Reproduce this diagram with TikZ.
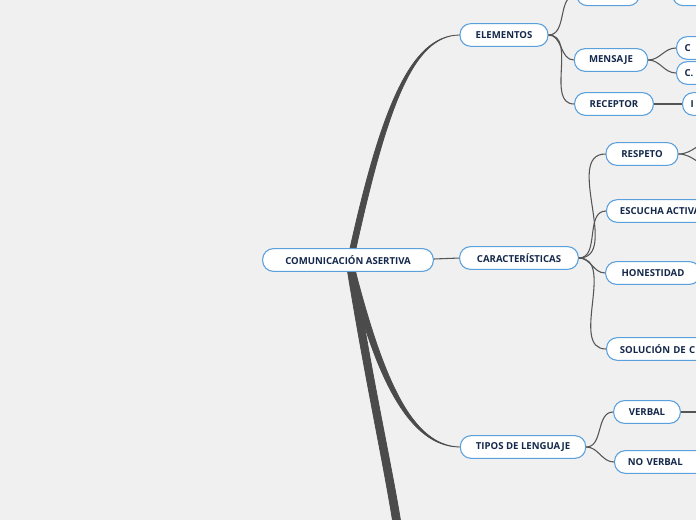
\documentclass[tikz,border=0pt]{standalone}
\usepackage{fontspec}
\setmainfont{Open Sans}
\begin{document}
\begin{tikzpicture}[x=0.75pt,y=-0.75pt,
  box/.style={draw=boxblue,fill=white,line width=0.8pt,rounded corners=8pt,inner sep=0pt,minimum height=17pt,font=\fontsize{7.2}{8}\selectfont\bfseries,text=navy},
  link/.style={draw=linegray,line width=0.8pt},
  trunk/.style={fill=trunkgray,draw=trunkgray,line width=0.6pt}]
\definecolor{boxblue}{RGB}{90,160,220}
\definecolor{navy}{RGB}{20,40,75}
\definecolor{linegray}{RGB}{85,85,85}
\definecolor{trunkgray}{RGB}{75,75,75}
\useasboundingbox (0,0) rectangle (696,520);
\clip (0,0) rectangle (696,520);
\fill[black!6] (0,0) rectangle (696,520);
% tapered trunks
\path[trunk] (347,262) .. controls (380,110) and (410,35) .. (460,35)
  .. controls (412,35) and (386,110) .. (353,262) -- cycle;
\path[trunk] (347,262) .. controls (375,380) and (410,447) .. (460,447)
  .. controls (412,446) and (383,380) .. (353,262) -- cycle;
\path[trunk] (346,262) .. controls (365,380) and (385,470) .. (394,530)
  -- (402,530) .. controls (393,470) and (372,380) .. (354,262) -- cycle;
\draw[link] (434,259) -- (460,258);
% nodes
\node[box,minimum width=128pt] (c) at (348,260) {COMUNICACIÓN ASERTIVA};
\node[box,minimum width=66pt] (el) at (504,35) {ELEMENTOS};
\node[box,minimum width=89pt] (ca) at (519,258) {CARACTERÍSTICAS};
\node[box,minimum width=94pt] (tl) at (523,447) {TIPOS DE LENGUAJE};
\node[box,minimum width=47pt,minimum height=16pt] (t0) at (608,-5) {};
\node[box,minimum width=40pt,minimum height=16pt,anchor=west] (t1) at (672,-5) {};
\node[box,minimum width=55pt] (me) at (611,60) {MENSAJE};
\node[box,minimum width=40pt,anchor=west,text width=34pt,align=left,inner xsep=6pt] (m1) at (676,48) {C};
\node[box,minimum width=40pt,anchor=west,text width=34pt,align=left,inner xsep=6pt] (m2) at (676,73) {C.};
\node[box,minimum width=59pt] (re) at (614,104) {RECEPTOR};
\node[box,minimum width=40pt,anchor=west,text width=34pt,align=left,inner xsep=6pt] (r1) at (682,104) {I};
\node[box,minimum width=54pt] (rs) at (642,154) {RESPETO};
\node[box,anchor=west,inner xsep=10pt] (ea) at (606,211) {ESCUCHA ACTIVA};
\node[box,minimum width=71pt] (ho) at (653,273) {HONESTIDAD};
\node[box,anchor=west,inner xsep=10pt,text width=90pt,align=left] (so) at (606,349) {SOLUCIÓN DE C};
\node[box,minimum width=50pt] (ve) at (647,412) {VERBAL};
\node[box,anchor=west,inner xsep=10pt,text width=60pt,align=left] (nv) at (614,462) {NO VERBAL};
% links
\coordinate (p1) at (715,140);
\coordinate (p2) at (715,168);
\coordinate (p3) at (705,412);
\draw[link] (el.east) to[out=0,in=180] (t0.west);
\draw[link] (t0.east) -- (t1.west);
\draw[link] (el.east) to[out=0,in=180] (me.west);
\draw[link] (el.east) to[out=0,in=180] (re.west);
\draw[link] (me.east) to[out=0,in=180] (m1.west);
\draw[link] (me.east) to[out=0,in=180] (m2.west);
\draw[link] (re.east) -- (r1.west);
\draw[link] (ca.east) to[out=0,in=180] (rs.west);
\draw[link] (ca.east) to[out=0,in=180] (ea.west);
\draw[link] (ca.east) to[out=0,in=180] (ho.west);
\draw[link] (ca.east) to[out=0,in=180] (so.west);
\draw[link] (rs.east) to[out=0,in=180] (p1);
\draw[link] (rs.east) to[out=0,in=180] (p2);
\draw[link] (tl.east) to[out=0,in=180] (ve.west);
\draw[link] (tl.east) to[out=0,in=180] (nv.west);
\draw[link] (ve.east) -- (p3);
\end{tikzpicture}
\end{document}
